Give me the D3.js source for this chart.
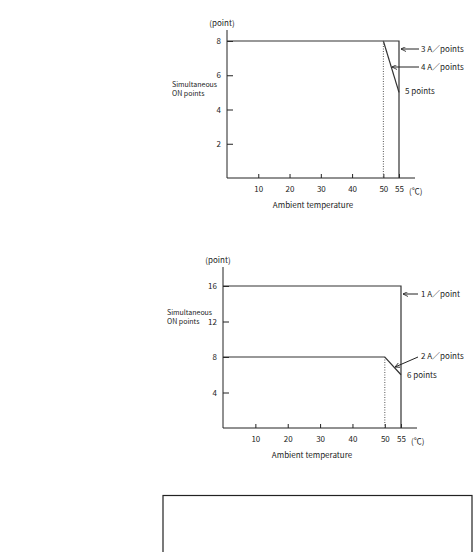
<!DOCTYPE html>
<html><head><meta charset="utf-8">
<script src="https://cdn.jsdelivr.net/npm/d3@7"></script>
<style>body{margin:0;background:#fff}svg text{font-family:"Noto Sans CJK JP","DejaVu Sans Mono",monospace;font-size:8px;fill:#222}</style>
</head><body><svg id="c" width="474" height="552"></svg>
<script>
const xTicks=[10,20,30,40,50,55];
const yTicks1=[2,4,6,8];
const yTicks2=[4,8,12,16];
const c1_3A=[[0,8],[55,8],[55,0]];
const c1_4A=[[50,8],[55,5]];
const c2_1A=[[0,16],[55,16],[55,0]];
const c2_2A=[[0,8],[50,8],[55,6]];
const svg=d3.select("#c");
svg.append("defs").append("marker").attr("id","ar").attr("viewBox","0 0 6 6").attr("refX",6).attr("refY",3)
 .attr("markerWidth",5).attr("markerHeight",5).attr("orient","auto")
 .append("path").attr("d","M0,0L6,3L0,6").attr("fill","none").attr("stroke","#222").attr("stroke-width",1);
function chart(o){
 const g=svg.append("g");
 const x=d3.scaleLinear().domain([0,55]).range([o.x0,o.x55]);
 const y=d3.scaleLinear().domain([0,o.ymax]).range([o.y0,o.ytop]);
 const xa=g.append("g").attr("transform",`translate(0,${o.y0})`).call(d3.axisBottom(x).tickValues(xTicks).tickSize(0).tickPadding(0));
 xa.select(".domain").remove();
 xa.selectAll(".tick line").remove();
 xa.selectAll(".tick").append("line").attr("y1",-4).attr("y2",0).attr("stroke","#222");
 xa.selectAll("text").attr("dy","1.8em").attr("font-size",8).attr("font-family",null);
 g.append("line").attr("x1",o.x0).attr("x2",o.xend).attr("y1",o.y0).attr("y2",o.y0).attr("stroke","#222");
 g.append("line").attr("x1",o.x0).attr("x2",o.x0).attr("y1",o.y0).attr("y2",o.yend).attr("stroke","#222");
 const ya=g.append("g").attr("transform",`translate(${o.x0},0)`).call(d3.axisLeft(y).tickValues(o.yt).tickSize(0).tickPadding(6));
 ya.select(".domain").remove();
 ya.selectAll(".tick").append("line").attr("x1",0).attr("x2",6).attr("stroke","#222");
 ya.selectAll("text").attr("font-size",8).attr("font-family",null);
 g.append("text").attr("x",o.x0-5).attr("y",o.yend-4).attr("text-anchor","middle").text("(point)");
 g.append("text").attr("x",o.x55+10).attr("y",o.y0+16).text("(℃)");
 g.append("text").attr("x",(o.x0+o.x55)/2).attr("y",o.y0+30).attr("text-anchor","middle").text("Ambient temperature");
 g.append("text").attr("x",o.lx).attr("y",o.ly).style("font-size","7px").text("Simultaneous");
 g.append("text").attr("x",o.lx).attr("y",o.ly+9).style("font-size","7px").text("ON points");
 const ln=d3.line().x(d=>x(d[0])).y(d=>y(d[1]));
 o.lines.forEach(d=>g.append("path").attr("d",ln(d)).attr("fill","none").attr("stroke","#333").attr("stroke-width",1.2));
 g.append("line").attr("x1",x(50)).attr("x2",x(50)).attr("y1",y(8)).attr("y2",o.y0).attr("stroke","#555").attr("stroke-dasharray","1,1.5");
 o.labels.forEach(l=>{
  if(l.a) g.append("line").attr("x1",l.a[0]).attr("y1",l.a[1]).attr("x2",l.a[2]).attr("y2",l.a[3]).attr("stroke","#222").attr("marker-end","url(#ar)");
  g.append("text").attr("x",l.x).attr("y",l.y).text(l.t);
 });
}
chart({x0:227,x55:399,y0:178,ytop:41,ymax:8,xend:415,yend:30,yt:yTicks1,lx:172,ly:87,lines:[c1_3A,c1_4A],
 labels:[{t:"3 A／points",x:421,y:52,a:[419,49,401,49]},{t:"4 A／points",x:421,y:70,a:[419,67,392,67]},{t:"5 points",x:405,y:94}]});
chart({x0:223,x55:401,y0:428,ytop:286,ymax:16,xend:417,yend:267,yt:yTicks2,lx:167,ly:315,lines:[c2_1A,c2_2A],
 labels:[{t:"1 A／point",x:421,y:297,a:[418,294,403,294]},{t:"2 A／points",x:421,y:359,a:[418,357,395,367]},{t:"6 points",x:407,y:378}]});
svg.append("rect").attr("x",163).attr("y",495.5).attr("width",309).attr("height",60).attr("fill","none").attr("stroke","#222").attr("stroke-width",1.2);
</script></body></html>
